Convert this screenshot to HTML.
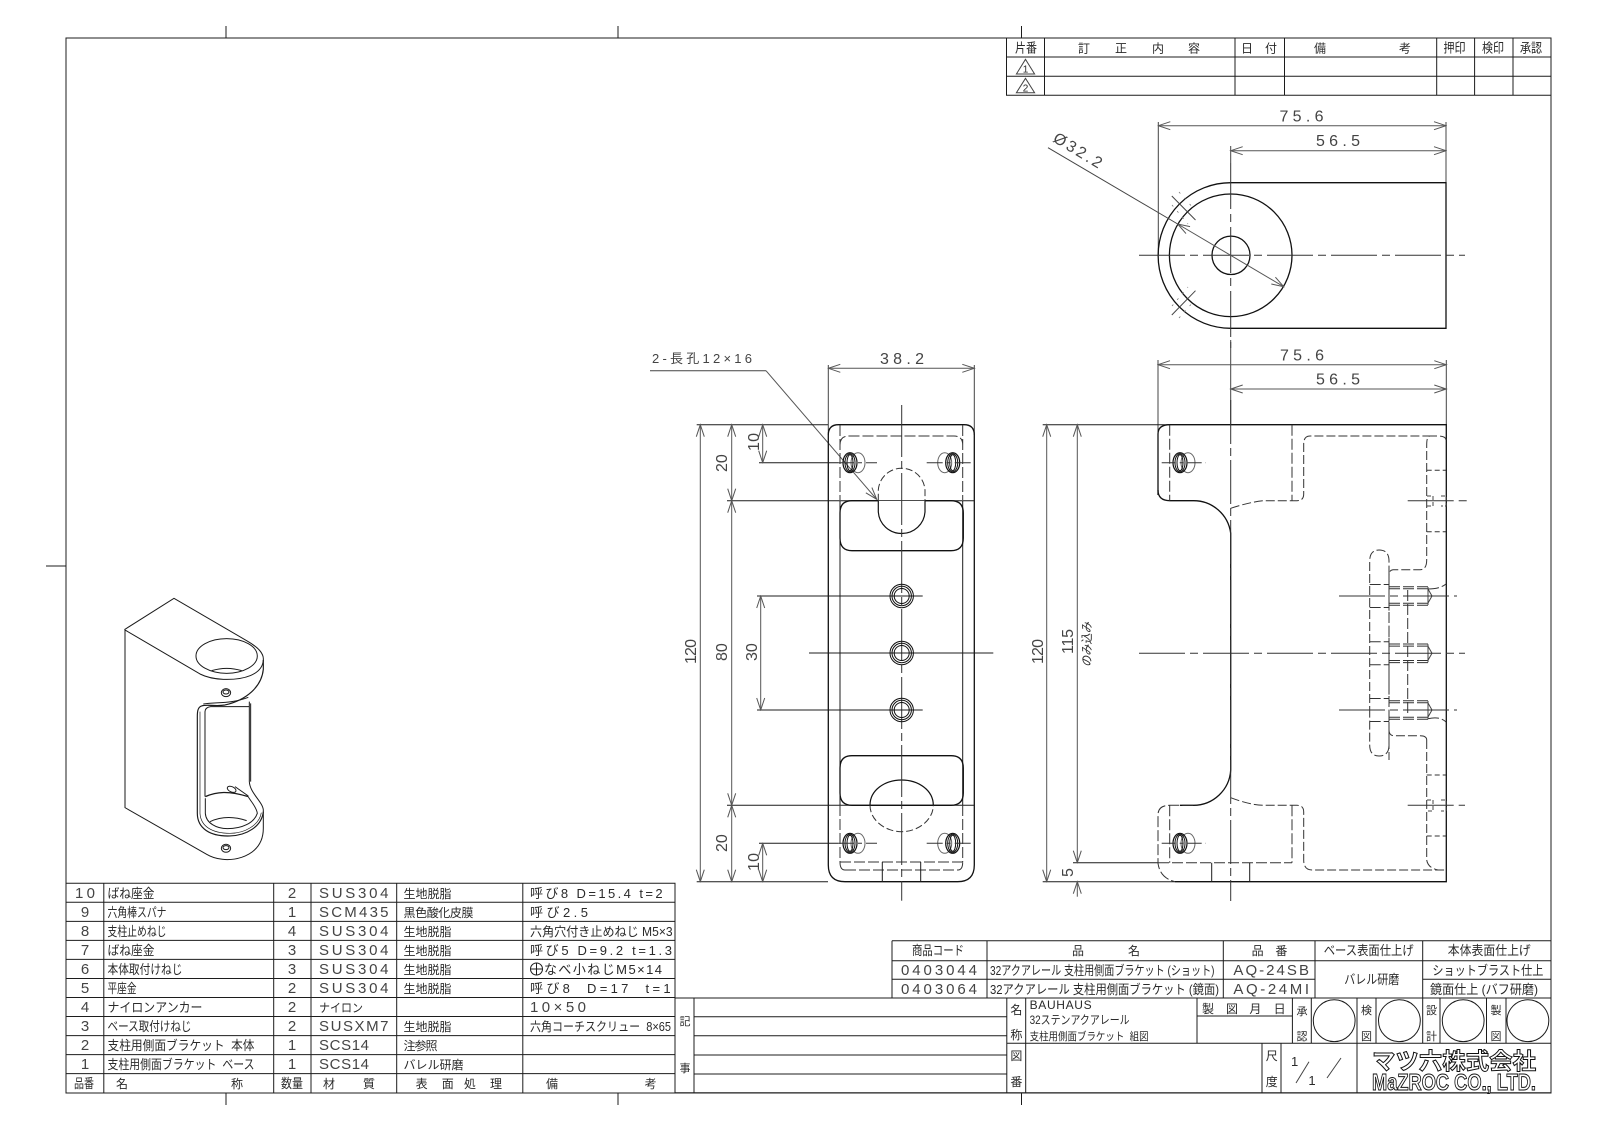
<!DOCTYPE html>
<html lang="ja"><head><meta charset="utf-8"><title>支柱用側面ブラケット 組図</title>
<style>
html,body{margin:0;padding:0;background:#fff}
svg{display:block}
text{font-family:"Liberation Sans","Noto Sans CJK JP",sans-serif;fill:#2a2a2a;font-size:12px}
.n{font-size:15px;fill:#444}
.d{font-size:16px;fill:#444}
.h{text-anchor:middle}
.l{fill:none;stroke:#1c1c1c;stroke-width:1}
.b{fill:none;stroke:#111;stroke-width:1.3}
.g{fill:none;stroke:#444;stroke-width:1}
.a{fill:none;stroke:#555;stroke-width:1;marker-start:url(#as);marker-end:url(#ae)}
.a1{fill:none;stroke:#555;stroke-width:1;marker-end:url(#ae)}
.c{fill:none;stroke:#333;stroke-width:1;stroke-dasharray:46 5 8 5}
.q{fill:none;stroke:#333;stroke-width:1;stroke-dasharray:11 3}
.m{font-size:13px}
</style></head><body>
<svg width="1600" height="1131" viewBox="0 0 1600 1131" xmlns="http://www.w3.org/2000/svg">
<defs>
<marker id="ae" markerUnits="userSpaceOnUse" markerWidth="14" markerHeight="10" refX="13" refY="5" orient="auto"><path d="M1,1 L13,5 L1,9" fill="none" stroke="#555"/></marker>
<marker id="as" markerUnits="userSpaceOnUse" markerWidth="14" markerHeight="10" refX="13" refY="5" orient="auto-start-reverse"><path d="M1,1 L13,5 L1,9" fill="none" stroke="#555"/></marker>
<g id="slotL"><ellipse cx="8" cy="0" rx="7" ry="10" fill="none" stroke="#666"/><ellipse cx="0" cy="0" rx="7" ry="10" fill="none" stroke="#111" stroke-width="1.2"/><ellipse cx="0" cy="0" rx="5" ry="9" fill="none" stroke="#111"/><ellipse cx="0" cy="0" rx="3" ry="8" fill="none" stroke="#111"/></g>
<g id="slotR"><ellipse cx="-8" cy="0" rx="7" ry="10" fill="none" stroke="#666"/><ellipse cx="0" cy="0" rx="7" ry="10" fill="none" stroke="#111" stroke-width="1.2"/><ellipse cx="0" cy="0" rx="5" ry="9" fill="none" stroke="#111"/><ellipse cx="0" cy="0" rx="3" ry="8" fill="none" stroke="#111"/></g>
<g id="hole"><circle r="11.7" fill="none" stroke="#111"/><circle r="9.7" fill="none" stroke="#111"/><circle r="7.5" fill="none" stroke="#111"/></g>
<g id="screw">
<path class="q" d="M1369.7,-11.5H1389M1369.7,11.5H1389M1389,-9.3H1428M1389,9.3H1428M1389,-7.2H1428M1389,7.2H1428"/>
<path class="g" d="M1428,-9V9M1428,-7L1432,0L1428,7"/>
</g>
</defs>

<!-- frame and ticks -->
<rect x="66" y="38" width="1485" height="1055" class="l"/>
<path class="l" d="M226,26V38M618,26V38M1021.5,26V38M226,1093V1105M618,1093V1105M1021.5,1093V1105M46,566H66"/>

<!-- revision table -->
<path class="l" d="M1006.5,38V95.3H1551M1006.5,57H1551M1006.5,76.3H1551M1044.5,38V95.3M1235,38V95.3M1284.5,38V95.3M1436.7,38V95.3M1474.6,38V95.3M1513,38V95.3"/>
<text x="1015" y="52.5" class="m" textLength="22" lengthAdjust="spacingAndGlyphs">片番</text>
<text x="1084" y="52.5" class="h">訂</text><text x="1121" y="52.5" class="h">正</text><text x="1158" y="52.5" class="h">内</text><text x="1194" y="52.5" class="h">容</text>
<text x="1247" y="52.5" class="h">日</text><text x="1271" y="52.5" class="h">付</text><text x="1320" y="52.5" class="h">備</text><text x="1405" y="52.5" class="h">考</text>
<text x="1443.5" y="52.5" class="m" textLength="22" lengthAdjust="spacingAndGlyphs">押印</text><text x="1482" y="52.5" class="m" textLength="22" lengthAdjust="spacingAndGlyphs">検印</text><text x="1520" y="52.5" class="m" textLength="22" lengthAdjust="spacingAndGlyphs">承認</text>
<path class="g" d="M1025.5,59.3L1016.4,74H1034.6ZM1025.5,78.3L1016.4,92.7H1034.6Z"/>
<text x="1025.5" y="72.5" class="h" style="font-size:10px">1</text><text x="1025.5" y="91.5" class="h" style="font-size:10px">2</text>

<!-- TOP VIEW -->
<path class="g" d="M1158.3,122V255M1446,122V183M1230.7,146V163"/>
<line class="a" x1="1158.3" y1="125.7" x2="1446" y2="125.7"/>
<line class="a" x1="1230.7" y1="150.7" x2="1446" y2="150.7"/>
<text x="1279.5" y="121.5" class="d" textLength="44">75.6</text>
<text x="1316" y="146" class="d" textLength="44">56.5</text>
<path class="b" d="M1230.7,182.7H1446V328.3H1230.7A72.6,72.8 0 0 1 1230.7,182.7Z"/>
<circle cx="1230.7" cy="255.3" r="61.3" class="b"/>
<ellipse cx="1231" cy="255.3" rx="19" ry="19.2" class="b"/>
<line x1="1139" y1="255.3" x2="1465" y2="255.3" class="c"/>
<line x1="1230.7" y1="163" x2="1230.7" y2="348" class="c"/>
<path class="g" d="M1048,147.7L1177.7,224"/>
<line class="a" x1="1177.7" y1="224" x2="1283.7" y2="286.7"/>
<text transform="translate(1052,141) rotate(31)" class="d" textLength="54">Ø32.2</text>
<path class="g" d="M1171.8,196L1195.5,220M1195.5,290.7L1171.8,315"/>
<path style="fill:none;stroke:#777;stroke-width:.8;stroke-dasharray:2 6" d="M1179,192L1195,210M1172,205L1188,224M1179,318L1195,300M1172,306L1188,287"/>

<!-- FRONT VIEW -->
<path class="g" d="M828.3,365V435M974.3,365V435"/>
<line class="a" x1="828.3" y1="368.3" x2="974.3" y2="368.3"/>
<text x="880" y="364" class="d" textLength="44">38.2</text>
<text x="652" y="363" style="font-size:13px;fill:#444" textLength="100" lengthAdjust="spacing">2-長孔12×16</text>
<path class="g" d="M650,370.7H766"/>
<line class="a1" x1="766" y1="370.7" x2="876.7" y2="499.3"/>
<path class="b" d="M828.3,435Q828.3,424.7 838.6,424.7H964Q974.3,424.7 974.3,435V865Q974.3,881.7 957.6,881.7H845Q828.3,881.7 828.3,865Z"/>
<path class="l" d="M696.7,424.7H828M727,500.7H974.3M727,805.3H974.3M696.7,881.7H828M759,462.7H838M759,843.3H838M757,596H870M757,710H870"/>
<path class="l" d="M840,500.7V805M962.7,500.7V805"/>
<path class="b" d="M852,500.7H951Q963.3,500.7 963.3,513V538Q963.3,550.7 951,550.7H852Q840,550.7 840,538V513Q840,500.7 852,500.7Z"/>
<path class="b" d="M852,805.3H951Q963.3,805.3 963.3,793V768Q963.3,755.7 951,755.7H852Q840,755.7 840,768V793Q840,805.3 852,805.3Z"/>
<path class="q" d="M840,425V500M962.7,425V500M840,805V862M962.7,805V862M840,445Q840,436 849,436H954Q962.7,436 962.7,445M840,862H962.7M845,870H958Q962.7,870 962.7,862M845,870Q840,870 840,862"/>
<path class="l" d="M882.3,862V881.7M920.7,862V881.7"/>
<path fill="#fff" stroke="#111" stroke-width="1.2" d="M878.3,500.7V512A23.4,23 0 0 0 925,512V500.7"/>
<path class="q" style="stroke-dasharray:7 3" d="M878.3,500.7V490A23.4,23.3 0 0 1 925,490V500.7"/>
<path fill="none" stroke="#111" stroke-width="1.2" d="M870,805.3C870,790 885,780 901.7,780C918,780 933.3,790 933.3,805.3"/>
<path class="q" style="stroke-dasharray:7 3" d="M870,805.3C870,820 885,831.7 901.7,831.7C918,831.7 933.3,820 933.3,805.3"/>
<use href="#slotL" x="850" y="462.7"/><use href="#slotR" x="952.7" y="462.7"/>
<use href="#slotL" x="850" y="843.3"/><use href="#slotR" x="952.7" y="843.3"/>
<path class="c" style="stroke-dasharray:16 4 4 4" d="M838,462.7H877M926.7,462.7H971M838,843.3H877M926.7,843.3H971"/>
<line x1="901.7" y1="405" x2="901.7" y2="900.7" class="c" style="stroke-dasharray:52 4 8 4"/>
<path class="l" d="M757,596H922.7M809,653H993.3M757,710H922.7"/>
<use href="#hole" x="901.7" y="596"/><use href="#hole" x="901.7" y="653"/><use href="#hole" x="901.7" y="710"/>
<line class="a" x1="700.3" y1="424.7" x2="700.3" y2="881.7"/>
<line class="a" x1="731.7" y1="424.7" x2="731.7" y2="500.7"/>
<line class="a" x1="731.7" y1="500.7" x2="731.7" y2="805.3"/>
<line class="a" x1="731.7" y1="805.3" x2="731.7" y2="881.7"/>
<line class="a" x1="762.7" y1="424.7" x2="762.7" y2="462.7"/>
<line class="a" x1="762.7" y1="843.3" x2="762.7" y2="881.7"/>
<line class="a" x1="760.7" y1="596" x2="760.7" y2="710"/>
<text transform="translate(696,664) rotate(-90)" class="d" textLength="25">120</text>
<text transform="translate(727,661) rotate(-90)" class="d">80</text>
<text transform="translate(757,661) rotate(-90)" class="d">30</text>
<text transform="translate(727,472) rotate(-90)" class="d">20</text>
<text transform="translate(727,852) rotate(-90)" class="d">20</text>
<text transform="translate(759,451) rotate(-90)" class="d" textLength="18">10</text>
<text transform="translate(759,871) rotate(-90)" class="d" textLength="18">10</text>

<!-- SIDE VIEW -->
<path class="g" d="M1158,360V434M1446.3,360V424.7M1230.7,340V424.7"/>
<line class="a" x1="1158" y1="364.7" x2="1446.3" y2="364.7"/>
<line class="a" x1="1230.7" y1="389" x2="1446.3" y2="389"/>
<text x="1280" y="360.5" class="d" textLength="44">75.6</text>
<text x="1316" y="384.5" class="d" textLength="44">56.5</text>
<path class="l" d="M1042.7,424.7H1170M1042.7,881.7H1175"/>
<path class="l" d="M1073,862.7H1158"/>
<path class="b" d="M1158,495V434Q1158,424.7 1170,424.7H1446.3V881.7H1175"/>
<path class="b" d="M1158,490Q1158,500.7 1170,500.7H1193.3A37.4,37.4 0 0 1 1230.7,533.3V770A37.4,37.4 0 0 1 1193.3,805.3H1180"/>
<path class="q" d="M1193.3,805.3H1170Q1158,805.3 1158,815V863.3Q1160,878 1175,881.7M1169.7,424.7V500.7M1169.7,805.3V862.7M1158,862.7H1292M1292,424.7V500.7M1292,805.3V862.7"/>
<path class="q" style="stroke-dasharray:9 3" d="M1230.7,508.3Q1250,502 1263.3,500.7H1297Q1303.7,500.7 1303.7,494V444Q1303.7,436 1310,436H1430Q1426.7,436 1426.7,445V560Q1426.7,569.7 1420,569.7H1393Q1389,570 1389,576"/>
<path class="q" d="M1426,436H1437Q1446,436 1446,440"/>
<path class="q" style="stroke-dasharray:9 3" d="M1230.7,797.7Q1250,805 1263.3,805.3H1297Q1303.7,805.3 1303.7,812V860Q1303.7,870 1312,870H1446M1426.7,740Q1426.7,735.7 1420,735.7H1393Q1389,735 1389,730M1426.7,740V860Q1428,868 1438,870"/>
<path class="q" style="stroke-dasharray:9 3" d="M1369.7,715V561Q1369.7,550 1379,550Q1389,550 1389,561V745Q1389,756 1379,756Q1369.7,756 1369.7,745V715"/>
<path class="q" d="M1389,570V760M1407.7,590V713"/>
<path class="q" style="stroke-dasharray:5 3" d="M1426.7,470.3H1446M1426.7,531.7H1446M1426.7,775H1446M1426.7,836H1446"/>
<path class="g" style="stroke-dasharray:4 2" d="M1427,496H1433V506H1427M1441,496H1446V506H1441M1427,800H1433V811H1427M1441,800H1446V811H1441"/>
<path class="l" d="M1211.7,862.7V881.7M1249.7,862.7V881.7"/>
<use href="#screw" y="596"/><use href="#screw" y="653.3"/><use href="#screw" y="710"/>
<path class="q" d="M1428,589Q1440,589 1446,584M1428,718.7Q1440,716 1446,722"/>
<use href="#slotL" x="1180" y="462.7"/><use href="#slotL" x="1180" y="843.3"/>
<path class="c" style="stroke-dasharray:14 4 4 4" d="M1161.7,462.7H1206M1161.7,843.3H1206"/>
<path class="c" d="M1407.7,500.7H1467M1407.7,805.3H1465M1339,596H1457M1339,710H1457"/>
<line x1="1139" y1="653.3" x2="1465" y2="653.3" class="c"/>
<line x1="1230.7" y1="400" x2="1230.7" y2="901" class="c" style="stroke-dasharray:44 4 8 4"/>
<line class="a" x1="1046.7" y1="424.7" x2="1046.7" y2="881.7"/>
<line class="a" x1="1077.3" y1="424.7" x2="1077.3" y2="862.7"/>
<line class="a1" x1="1077.3" y1="896.7" x2="1077.3" y2="881.7"/>
<text transform="translate(1043,664) rotate(-90)" class="d" textLength="25">120</text>
<text transform="translate(1073,654) rotate(-90)" class="d" textLength="25">115</text>
<text transform="translate(1073,877) rotate(-90)" class="d">5</text>
<text transform="translate(1091,667) rotate(-90)" style="font-size:12px;font-style:italic" textLength="45" lengthAdjust="spacingAndGlyphs">のみ込み</text>

<!-- ISOMETRIC VIEW -->
<g transform="translate(100,580) scale(.3333)" fill="none" stroke="#1a1a1a" stroke-width="3">
<path d="M75,150Q73,148 78,146L222,55L440,182C475,202 492,220 490,240C487,285 430,300 370,298C345,297 320,292 300,282L75,150V683L320,823C345,838 385,845 425,832C465,818 490,790 490,745V690C488,665 450,640 448,605V365"/>
<ellipse cx="380" cy="228" rx="92" ry="52"/>
<path d="M335,272Q380,258 425,272"/>
<path d="M490,240V268C485,320 440,360 375,375C345,380 320,372 305,378C293,382 292,395 292,410V700C292,745 330,770 390,768C440,766 485,740 490,695" stroke-width="3.5"/>
<path d="M310,372C345,366 395,372 445,352" stroke-width="3"/>
<path d="M300,395V700C302,738 335,760 390,760C435,760 478,735 484,698" stroke-width="2"/>
<path d="M315,650V395Q316,382 332,380H447M452,370V605"/>
<path d="M316,650C350,635 385,632 445,650" stroke-width="4"/>
<path d="M316,655V700C318,730 350,746 382,746C425,746 462,730 472,700C470,680 445,655 445,650"/>
<path d="M330,725Q380,702 440,722"/>
<ellipse cx="395" cy="628" rx="14" ry="8" transform="rotate(25 395 628)"/>
<path d="M405,620L445,648"/>
<ellipse cx="378" cy="338" rx="14" ry="12"/><ellipse cx="378" cy="336" rx="9" ry="6"/>
<ellipse cx="378" cy="805" rx="14" ry="12"/><ellipse cx="378" cy="803" rx="9" ry="6"/>
</g>

<!-- PARTS LIST -->
<path class="l" stroke-width="1.2" d="M66,883.3H675V1092.7M66,902.3H675M66,921.4H675M66,940.4H675M66,959.4H675M66,978.5H675M66,997.5H675M66,1016.5H675M66,1035.6H675M66,1054.6H675M66,1073.6H675M103.8,883.3V1092.7M273.7,883.3V1092.7M311,883.3V1092.7M396.7,883.3V1092.7M522.8,883.3V1092.7"/>
<g class="num">
<text x="85" y="898" class="n h" textLength="20">10</text><text x="85" y="917" class="n h">9</text><text x="85" y="936" class="n h">8</text><text x="85" y="955" class="n h">7</text><text x="85" y="974" class="n h">6</text><text x="85" y="993" class="n h">5</text><text x="85" y="1012" class="n h">4</text><text x="85" y="1031" class="n h">3</text><text x="85" y="1050" class="n h">2</text><text x="85" y="1069" class="n h">1</text>
<text x="292" y="898" class="n h">2</text><text x="292" y="917" class="n h">1</text><text x="292" y="936" class="n h">4</text><text x="292" y="955" class="n h">3</text><text x="292" y="974" class="n h">3</text><text x="292" y="993" class="n h">2</text><text x="292" y="1012" class="n h">2</text><text x="292" y="1031" class="n h">2</text><text x="292" y="1050" class="n h">1</text><text x="292" y="1069" class="n h">1</text>
</g>
<text x="107.5" y="898" class="m" textLength="47" lengthAdjust="spacingAndGlyphs">ばね座金</text>
<text x="107.5" y="917" class="m" textLength="59" lengthAdjust="spacingAndGlyphs">六角棒スパナ</text>
<text x="107.5" y="936" class="m" textLength="59" lengthAdjust="spacingAndGlyphs">支柱止めねじ</text>
<text x="107.5" y="955" class="m" textLength="47" lengthAdjust="spacingAndGlyphs">ばね座金</text>
<text x="107.5" y="974" class="m" textLength="75" lengthAdjust="spacingAndGlyphs">本体取付けねじ</text>
<text x="107.5" y="993" class="m" textLength="29" lengthAdjust="spacingAndGlyphs">平座金</text>
<text x="107.5" y="1012" class="m" textLength="95" lengthAdjust="spacingAndGlyphs">ナイロンアンカー</text>
<text x="107.5" y="1031" class="m" textLength="84" lengthAdjust="spacingAndGlyphs">ベース取付けねじ</text>
<text x="107.5" y="1050" class="m" textLength="147" lengthAdjust="spacingAndGlyphs" xml:space="preserve">支柱用側面ブラケット  本体</text>
<text x="107.5" y="1069" class="m" textLength="147" lengthAdjust="spacingAndGlyphs" xml:space="preserve">支柱用側面ブラケット  ベース</text>
<text x="319" y="898" class="n" textLength="69.5">SUS304</text><text x="319" y="917" class="n" textLength="69.5">SCM435</text><text x="319" y="936" class="n" textLength="69.5">SUS304</text><text x="319" y="955" class="n" textLength="69.5">SUS304</text><text x="319" y="974" class="n" textLength="69.5">SUS304</text><text x="319" y="993" class="n" textLength="69.5">SUS304</text>
<text x="319" y="1012" textLength="44" lengthAdjust="spacingAndGlyphs">ナイロン</text>
<text x="319" y="1031" class="n" textLength="69.5">SUSXM7</text><text x="319" y="1050" class="n" textLength="50">SCS14</text><text x="319" y="1069" class="n" textLength="50">SCS14</text>
<text x="403.5" y="898" textLength="48">生地脱脂</text><text x="403.5" y="917" textLength="70">黒色酸化皮膜</text><text x="403.5" y="936" textLength="48">生地脱脂</text><text x="403.5" y="955" textLength="48">生地脱脂</text><text x="403.5" y="974" textLength="48">生地脱脂</text><text x="403.5" y="993" textLength="48">生地脱脂</text><text x="403.5" y="1031" textLength="48">生地脱脂</text><text x="403.5" y="1050" textLength="34">注参照</text><text x="403.5" y="1069" textLength="60">バレル研磨</text>
<text x="530" y="898" style="font-size:13px" textLength="132.6" lengthAdjust="spacing" xml:space="preserve">呼び8 D=15.4 t=2</text>
<text x="530" y="917" style="font-size:13px" textLength="58" lengthAdjust="spacing">呼び2.5</text>
<text x="530" y="936" style="font-size:12.5px" textLength="142.6" lengthAdjust="spacingAndGlyphs" xml:space="preserve">六角穴付き止めねじ M5×3</text>
<text x="530" y="955" style="font-size:13px" textLength="142" lengthAdjust="spacing" xml:space="preserve">呼び5 D=9.2 t=1.3</text>
<circle cx="536.5" cy="969" r="6" class="l"/><path class="l" d="M530.5,969H542.5M536.5,963V975"/>
<text x="544" y="974" style="font-size:13px" textLength="118" lengthAdjust="spacing">なべ小ねじM5×14</text>
<text x="530" y="993" style="font-size:13px" textLength="140.6" lengthAdjust="spacing" xml:space="preserve">呼び8  D=17  t=1</text>
<text x="530" y="1012" class="n" textLength="56">10×50</text>
<text x="530" y="1031" style="font-size:12.5px" textLength="141" lengthAdjust="spacingAndGlyphs" xml:space="preserve">六角コーチスクリュー  8×65</text>
<text x="74" y="1088" class="m" textLength="20" lengthAdjust="spacingAndGlyphs">品番</text>
<text x="122" y="1088" class="h">名</text><text x="237" y="1088" class="h">称</text>
<text x="281" y="1088" class="m" textLength="22" lengthAdjust="spacingAndGlyphs">数量</text>
<text x="329" y="1088" class="h">材</text><text x="369" y="1088" class="h">質</text>
<text x="421.6" y="1088" class="h">表</text><text x="447.7" y="1088" class="h">面</text><text x="470" y="1088" class="h">処</text><text x="496" y="1088" class="h">理</text>
<text x="552" y="1088" class="h">備</text><text x="650.6" y="1088" class="h">考</text>

<!-- NOTES + TITLE BLOCK -->
<path class="l" d="M675,998H1551M694,1016.7H1006.8M694,1035.7H1006.8M694,1055H1006.8M694,1074H1006.8M675,1092.7H1551M694,998V1092.7"/>
<text x="685" y="1025" class="h" style="font-size:11px">記</text><text x="685" y="1072" class="h" style="font-size:11px">事</text>
<path class="l" d="M892,940.7H1551M892,960.7H1551M892,979.3H1315M1422.7,979.3H1551M892,940.7V998M987,940.7V998M1223.3,940.7V998M1315,940.7V998M1422.7,940.7V998"/>
<text x="912" y="955" class="m" textLength="52" lengthAdjust="spacingAndGlyphs">商品コード</text>
<text x="1078" y="955" class="h">品</text><text x="1134" y="955" class="h">名</text>
<text x="1257.6" y="955" class="h">品</text><text x="1281.4" y="955" class="h">番</text>
<text x="1323.7" y="955" class="m" textLength="90" lengthAdjust="spacingAndGlyphs">ベース表面仕上げ</text>
<text x="1447.8" y="955" class="m" textLength="83" lengthAdjust="spacingAndGlyphs">本体表面仕上げ</text>
<text x="901" y="975" class="n" textLength="76">0403044</text>
<text x="901" y="994" class="n" textLength="76">0403064</text>
<text x="990" y="975" class="m" textLength="224.5" lengthAdjust="spacingAndGlyphs" xml:space="preserve">32アクアレール 支柱用側面ブラケット (ショット)</text>
<text x="990" y="994" class="m" textLength="229" lengthAdjust="spacingAndGlyphs" xml:space="preserve">32アクアレール 支柱用側面ブラケット (鏡面)</text>
<text x="1233.4" y="975" class="n" textLength="75.6">AQ-24SB</text>
<text x="1233.4" y="994" class="n" textLength="75.6">AQ-24MI</text>
<text x="1344.3" y="984" class="m" textLength="55" lengthAdjust="spacingAndGlyphs">バレル研磨</text>
<text x="1432.4" y="975" class="m" textLength="111" lengthAdjust="spacingAndGlyphs">ショットブラスト仕上</text>
<text x="1430" y="994" class="m" textLength="108" lengthAdjust="spacingAndGlyphs" xml:space="preserve">鏡面仕上 (バフ研磨)</text>

<path class="l" d="M1006.8,998V1092.7M1025.7,998V1092.7M1197,998V1043.3M1292.4,998V1043.3M1311.3,998V1043.3M1357,998V1092.7M1376,998V1043.3M1422.7,998V1043.3M1440,998V1043.3M1486.5,998V1043.3M1506,998V1043.3M1262,1043.3V1092.7M1281,1043.3V1092.7M1197,1016H1292.4M1006.8,1043.3H1551"/>
<text x="1016.4" y="1014" class="h" style="font-size:12px">名</text><text x="1016.4" y="1039" class="h" style="font-size:12px">称</text>
<text x="1016.4" y="1060" class="h" style="font-size:12px">図</text><text x="1016.4" y="1086" class="h" style="font-size:12px">番</text>
<text x="1029.6" y="1009" textLength="62">BAUHAUS</text>
<text x="1029.6" y="1024" textLength="100" lengthAdjust="spacingAndGlyphs">32ステンアクアレール</text>
<text x="1029.6" y="1040" style="font-size:11px" textLength="119" lengthAdjust="spacingAndGlyphs" xml:space="preserve">支柱用側面ブラケット  組図</text>
<text x="1208" y="1013" class="h">製</text><text x="1232" y="1013" class="h">図</text><text x="1255.4" y="1013" class="h">月</text><text x="1279.6" y="1013" class="h">日</text>
<text x="1302" y="1015" class="h" style="font-size:11px">承</text><text x="1302" y="1040" class="h" style="font-size:11px">認</text>
<text x="1366.5" y="1014" class="h" style="font-size:11px">検</text><text x="1366.5" y="1040" class="h" style="font-size:11px">図</text>
<text x="1431.5" y="1014" class="h" style="font-size:11px">設</text><text x="1431.5" y="1040" class="h" style="font-size:11px">計</text>
<text x="1496" y="1014" class="h" style="font-size:11px">製</text><text x="1496" y="1040" class="h" style="font-size:11px">図</text>
<circle cx="1334.2" cy="1020.7" r="20.9" class="l"/><circle cx="1399.4" cy="1020.7" r="20.9" class="l"/><circle cx="1463.2" cy="1020.7" r="20.9" class="l"/><circle cx="1527.9" cy="1020.7" r="20.9" class="l"/>
<text x="1271.7" y="1060" class="h" style="font-size:12px">尺</text><text x="1271.7" y="1086" class="h" style="font-size:12px">度</text>
<text x="1294.6" y="1066" class="h" style="font-size:13px">1</text><text x="1312" y="1085" class="h" style="font-size:13px">1</text>
<path class="g" d="M1309,1061.7L1296,1083M1341,1058L1327,1078"/>
<text x="1372" y="1069" textLength="164" lengthAdjust="spacingAndGlyphs" style="font-size:23px;font-weight:700;fill:#fff;stroke:#111;stroke-width:1">マツ六株式会社</text>
<text x="1372" y="1090" textLength="164" lengthAdjust="spacingAndGlyphs" style="font-size:23px;font-weight:700;fill:#fff;stroke:#111;stroke-width:1">MaZROC CO., LTD.</text>
</svg>
</body></html>
